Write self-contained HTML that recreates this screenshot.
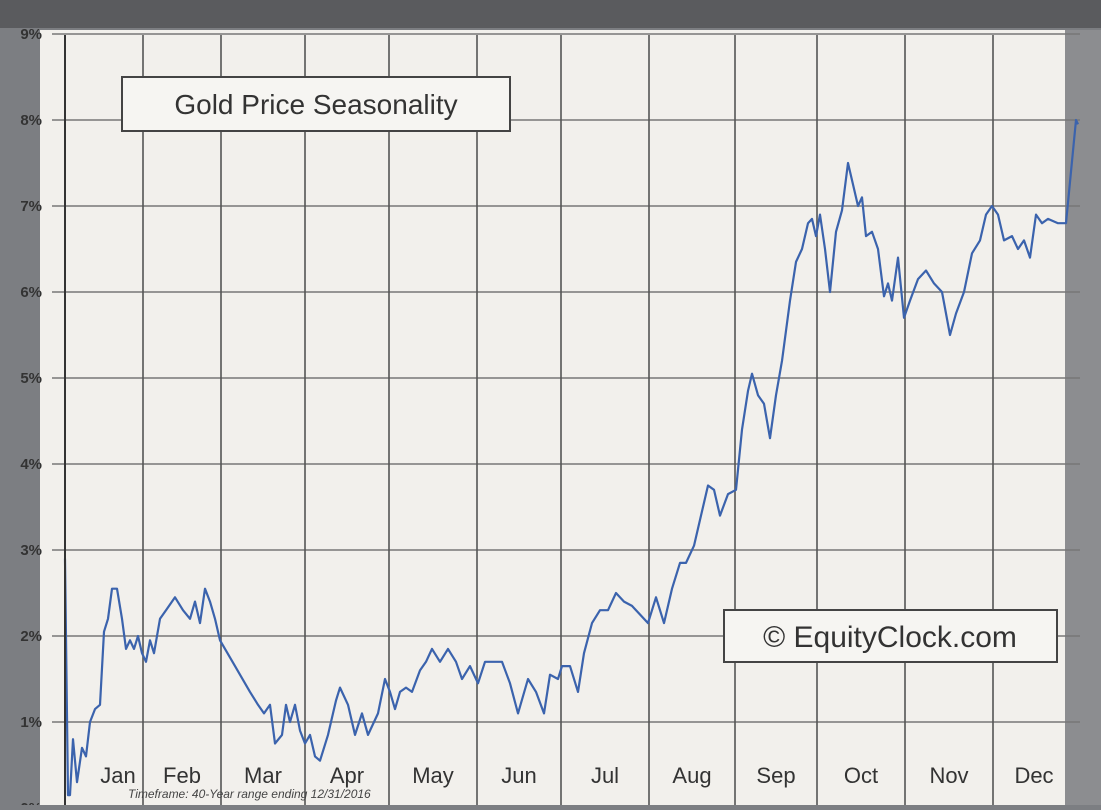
<!DOCTYPE html>
<html><head><meta charset="utf-8"><style>
body{margin:0;width:1101px;height:805px;overflow:hidden;background:#7c7e82;font-family:"Liberation Sans",sans-serif}
</style></head><body>
<svg width="1101" height="805">
<rect x="0" y="0" width="1101" height="805" fill="#7c7e82"/>
<rect x="0" y="0" width="1101" height="28" fill="#5a5b5e"/>
<rect x="40" y="30" width="1025" height="775" fill="#f2f0ec"/>
<rect x="1065" y="30" width="36" height="775" fill="#8c8d90"/>
<g id="grid"></g>
<g id="ylabels"></g>
<g id="xlabels"></g>
<path id="line" fill="none" stroke="#3b63ad" stroke-width="2.2" stroke-linejoin="round"/>
<line x1="65" y1="35" x2="65" y2="805" stroke="#333" stroke-width="2"/>
<g>
<rect x="122" y="77" width="388" height="54" fill="#f6f5f2" stroke="#444" stroke-width="2"/>
<text x="316" y="114" text-anchor="middle" font-size="28" fill="#333">Gold Price Seasonality</text>
</g>
<g>
<rect x="724" y="610" width="333" height="52" fill="#f6f5f2" stroke="#444" stroke-width="2"/>
<text x="890" y="647" text-anchor="middle" font-size="30" fill="#333">© EquityClock.com</text>
</g>
<text x="128" y="798" font-size="12" font-style="italic" fill="#444">Timeframe: 40-Year range ending 12/31/2016</text>
</svg>
<script>
const months=["Jan","Feb","Mar","Apr","May","Jun","Jul","Aug","Sep","Oct","Nov","Dec"];
const monthBounds=[19.5,39,60,81,103,124,146,167.5,188,210,232];
const yTicks=[0,1,2,3,4,5,6,7,8,9];
const yTickLabels=["0%","1%","2%","3%","4%","5%","6%","7%","8%","9%"];
const days=[0,0.75,1.25,2,3,4.25,5.25,6.25,7.5,8.75,9.75,10.75,11.75,13,14.25,15.25,16.25,17.25,18.25,19.25,20.25,21.25,22.25,23.75,25.25,27.5,29.5,31.25,32.5,33.75,35,36.25,37.5,38.75,42.5,46.25,48.25,49.75,51.25,52.5,54.25,55.25,56.25,57.5,58.75,60,61.25,62.5,63.75,65.75,67.75,68.75,70.75,72.5,74.25,75.75,78.25,80,81.25,82.5,83.75,85.25,86.75,88.75,90.25,91.75,93.75,95.75,97.75,99.25,101.25,103.25,105,107.5,109.25,111.25,113.25,115.75,117.75,119.75,121.25,123.25,124.25,126.25,128.25,129.75,131.75,133.75,135.75,137.75,139.75,141.75,143.75,145.75,147.75,149.75,151.75,153.75,155.25,157.25,158.75,160.75,162.25,163.75,165.75,167.75,169.25,170.75,171.75,173.25,174.75,176.25,177.75,179.25,181.25,182.75,184.25,185.75,186.75,187.75,188.75,190,191.25,192.75,194.25,195.75,197.25,198.25,199.25,200.25,201.75,203.25,204.75,205.75,206.75,208.25,209.75,211.25,213.25,215.25,217.25,219.25,221.25,222.75,224.75,226.75,228.75,230.25,231.75,233.25,234.75,236.75,238.25,239.75,241.25,242.75,244.25,245.75,248.25,250.25,252.75,253.25];
const values=[2.9,0.15,0.15,0.8,0.3,0.7,0.6,1.0,1.15,1.2,2.05,2.2,2.55,2.55,2.2,1.85,1.95,1.85,2.0,1.8,1.7,1.95,1.8,2.2,2.3,2.45,2.3,2.2,2.4,2.15,2.55,2.4,2.2,1.95,1.65,1.35,1.2,1.1,1.2,0.75,0.85,1.2,1.0,1.2,0.9,0.75,0.85,0.6,0.55,0.85,1.25,1.4,1.2,0.85,1.1,0.85,1.1,1.5,1.35,1.15,1.35,1.4,1.35,1.6,1.7,1.85,1.7,1.85,1.7,1.5,1.65,1.45,1.7,1.7,1.7,1.45,1.1,1.5,1.35,1.1,1.55,1.5,1.65,1.65,1.35,1.8,2.15,2.3,2.3,2.5,2.4,2.35,2.25,2.15,2.45,2.15,2.55,2.85,2.85,3.05,3.35,3.75,3.7,3.4,3.65,3.7,4.4,4.85,5.05,4.8,4.7,4.3,4.8,5.2,5.9,6.35,6.5,6.8,6.85,6.65,6.9,6.5,6.0,6.7,6.95,7.5,7.2,7.0,7.1,6.65,6.7,6.5,5.95,6.1,5.9,6.4,5.7,5.9,6.15,6.25,6.1,6.0,5.5,5.75,6.0,6.45,6.6,6.9,7.0,6.9,6.6,6.65,6.5,6.6,6.4,6.9,6.8,6.85,6.8,6.8,8.0,7.95];
const NS="http://www.w3.org/2000/svg";
const xS=d=>65+(d/252.5)*1010;
const yS=v=>808-86*v;
const grid=document.getElementById('grid'),yl=document.getElementById('ylabels'),xl=document.getElementById('xlabels');
yTicks.forEach((t,i)=>{
  const l=document.createElementNS(NS,'line');
  l.setAttribute('x1',52);l.setAttribute('x2',1080);l.setAttribute('y1',yS(t));l.setAttribute('y2',yS(t));
  l.setAttribute('stroke','#777');l.setAttribute('stroke-width','1.6');
  
  
  grid.appendChild(l);
  const tx=document.createElementNS(NS,'text');
  tx.setAttribute('x',42);tx.setAttribute('y',yS(t)+5);tx.setAttribute('text-anchor','end');
  tx.setAttribute('font-size','15');tx.setAttribute('font-weight','bold');tx.setAttribute('fill','#333');
  tx.textContent=yTickLabels[i];
  
  
  yl.appendChild(tx);
});
monthBounds.forEach(b=>{
  const l=document.createElementNS(NS,'line');
  l.setAttribute('x1',xS(b));l.setAttribute('x2',xS(b));l.setAttribute('y1',35);l.setAttribute('y2',805);
  l.setAttribute('stroke','#555');l.setAttribute('stroke-width','1.6');
  
  
  grid.appendChild(l);
});
const edges=[0].concat(monthBounds,[252.5]);
months.forEach((m,i)=>{
  const tx=document.createElementNS(NS,'text');
  tx.setAttribute('x',xS((edges[i]+edges[i+1])/2)+(i===0?14:0));tx.setAttribute('y',783);
  tx.setAttribute('text-anchor','middle');tx.setAttribute('font-size','22');tx.setAttribute('fill','#333');
  tx.textContent=m;
  
  
  xl.appendChild(tx);
});
document.getElementById('line').setAttribute('d',days.map((d,i)=>(i?'L':'M')+xS(d).toFixed(1)+','+yS(values[i]).toFixed(1)).join(''));
</script>
</body></html>
